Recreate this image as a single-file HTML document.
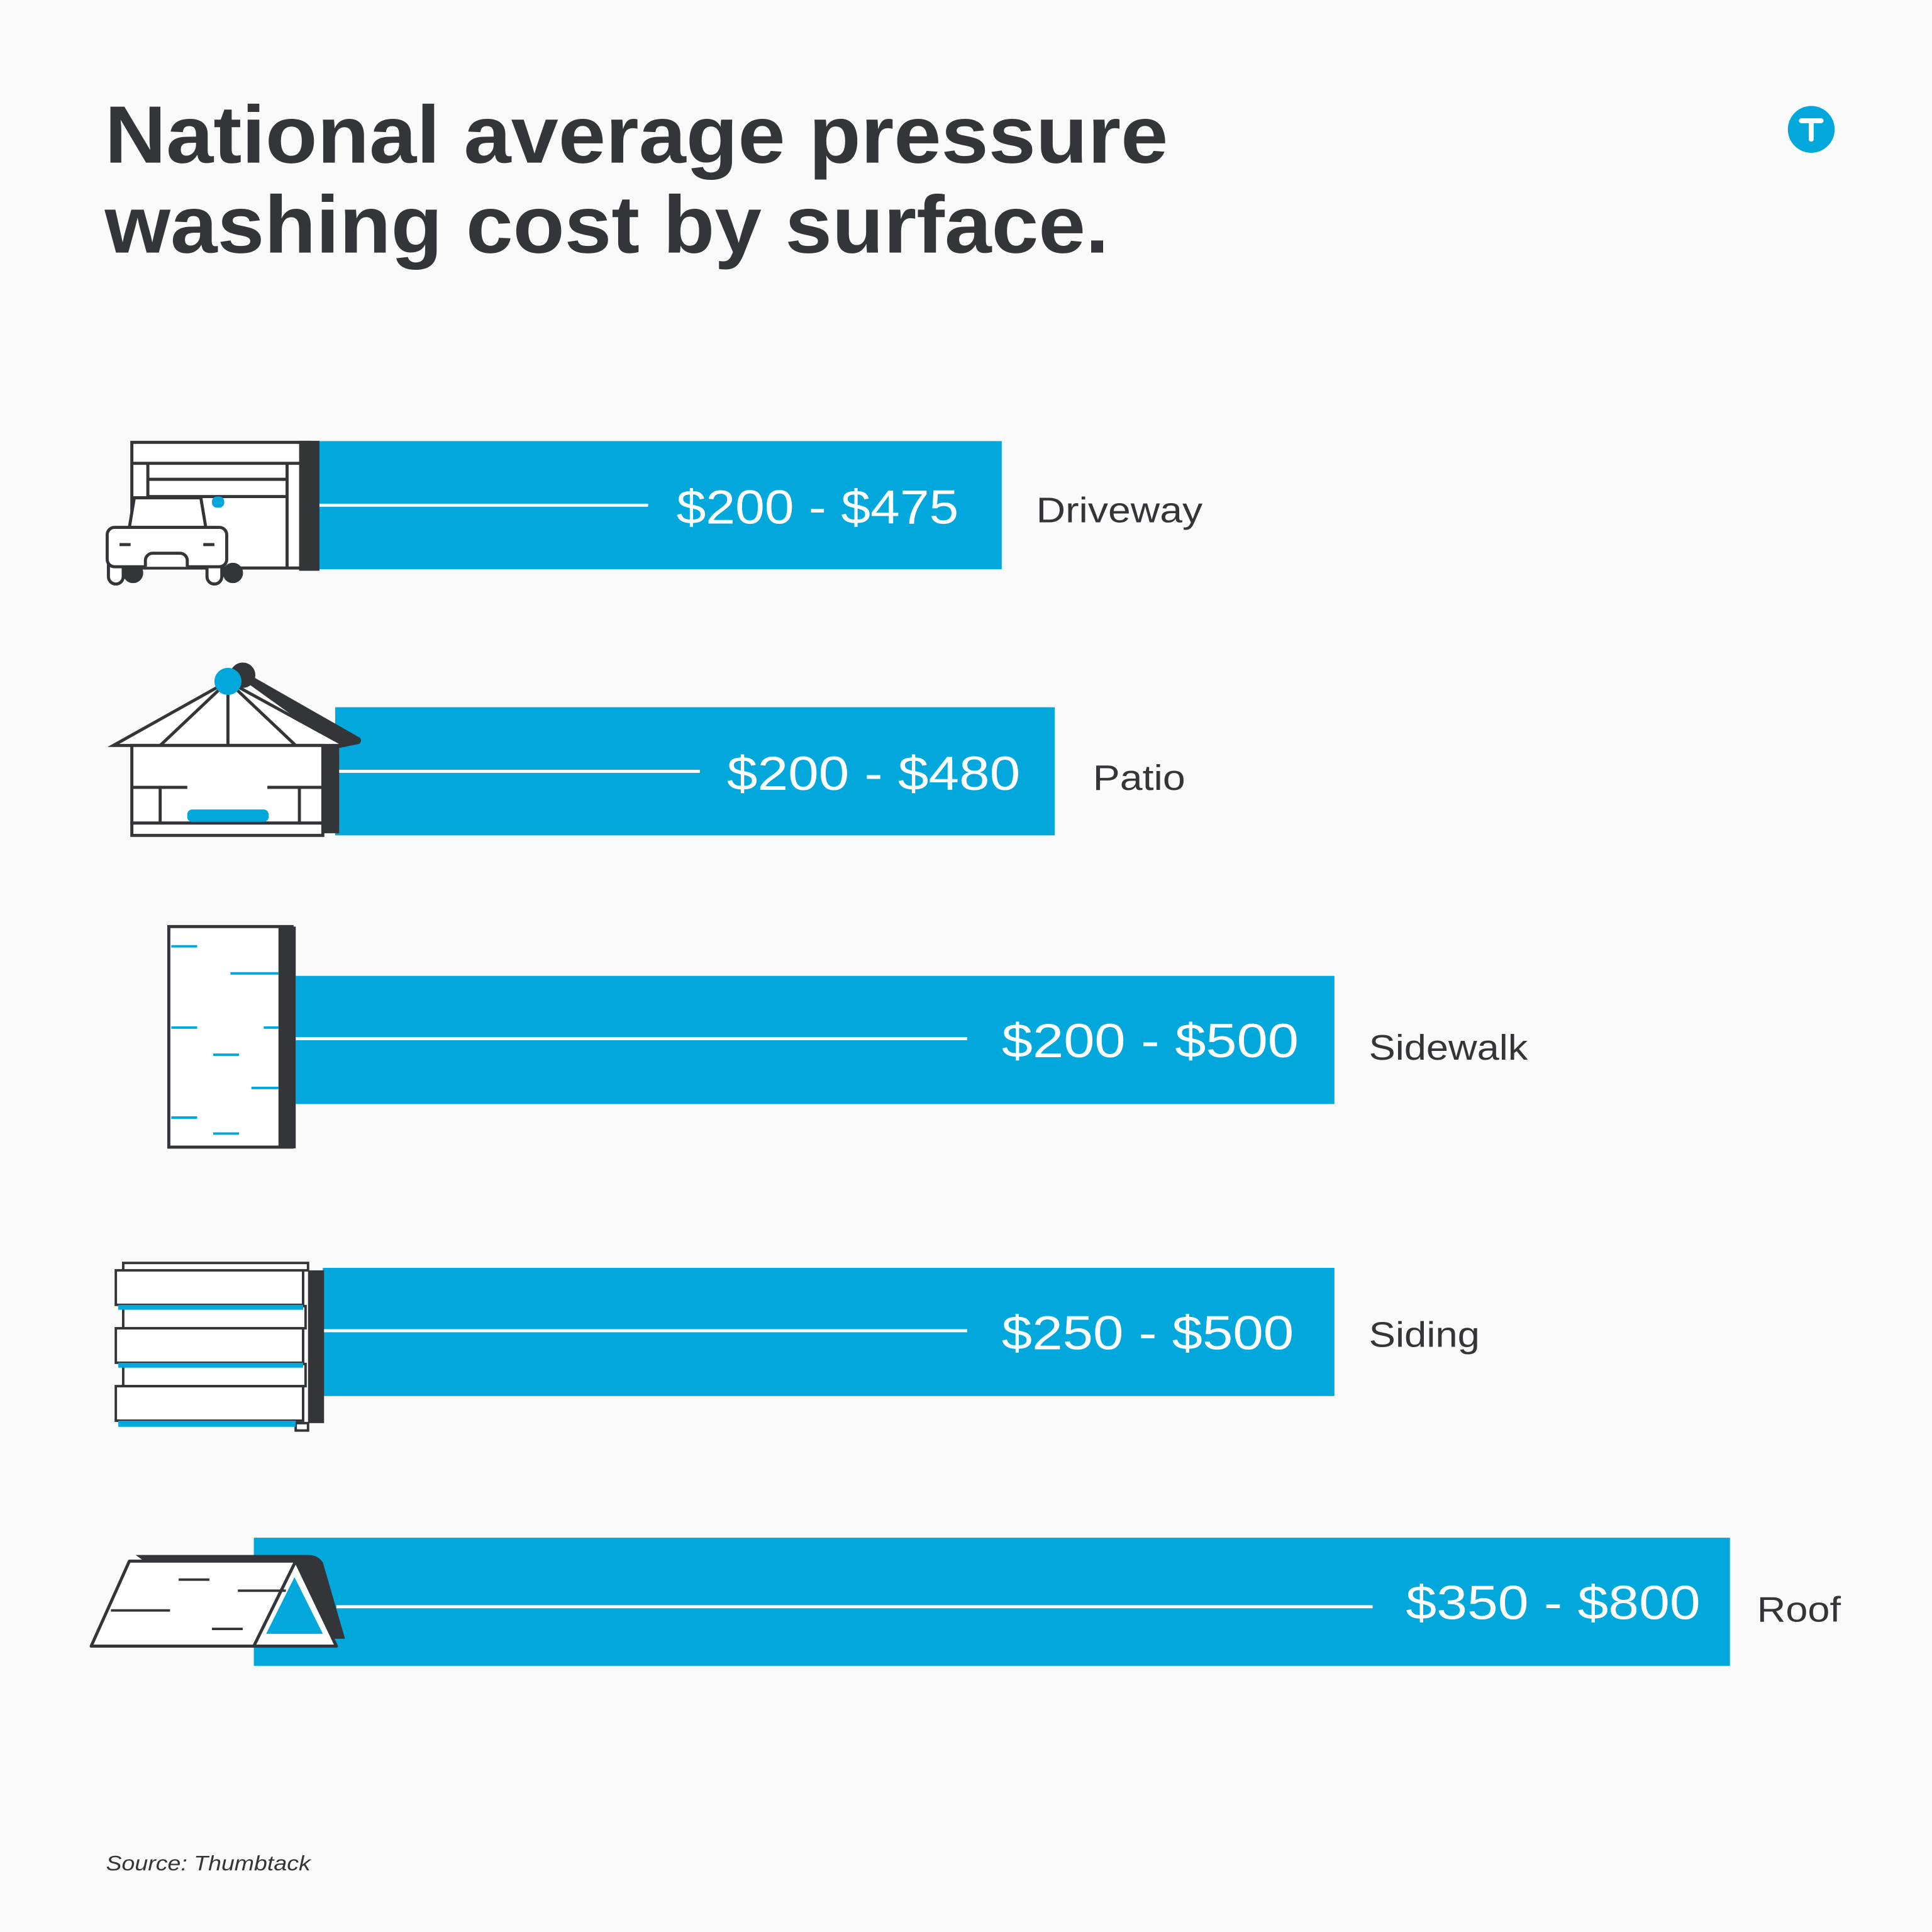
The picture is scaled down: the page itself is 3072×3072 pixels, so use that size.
<!DOCTYPE html>
<html><head><meta charset="utf-8"><style>
html,body{margin:0;padding:0;background:#fafafa;}
svg{display:block}
</style></head><body>
<svg width="3072" height="3072" viewBox="0 0 1568 1568" xmlns="http://www.w3.org/2000/svg" font-family="'Liberation Sans', 'DejaVu Sans', sans-serif">
<rect width="1568" height="1568" fill="#fafafa"/>
<g fill="#333539" font-weight="bold">
<text x="85" y="132" font-size="66" textLength="863" lengthAdjust="spacingAndGlyphs">National average pressure</text>
<text x="85" y="205" font-size="66" textLength="815" lengthAdjust="spacingAndGlyphs">washing cost by surface.</text>
</g>
<circle cx="1470" cy="105" r="19" fill="#02a8dc"/>
<path d="M1462 98 h16 M1470 98 v15" stroke="#fff" stroke-width="4" stroke-linecap="round"/>

<g fill="#02a8dc">
<rect x="258" y="358" width="555" height="104"/>
<rect x="272" y="574" width="584" height="104"/>
<rect x="240" y="792" width="843" height="104"/>
<rect x="262" y="1029" width="821" height="104"/>
<rect x="206" y="1248" width="1198" height="104"/>
</g>
<g stroke="#fff" stroke-width="2.5">
<line x1="258" y1="410" x2="526" y2="410"/>
<line x1="274" y1="626" x2="568" y2="626"/>
<line x1="240" y1="843" x2="785" y2="843"/>
<line x1="262" y1="1080" x2="785" y2="1080"/>
<line x1="273" y1="1304" x2="1114" y2="1304"/>
</g>
<g fill="#fff" font-size="39">
<text x="549" y="425" textLength="229" lengthAdjust="spacingAndGlyphs">$200 - $475</text>
<text x="590" y="641" textLength="238" lengthAdjust="spacingAndGlyphs">$200 - $480</text>
<text x="813" y="858" textLength="241" lengthAdjust="spacingAndGlyphs">$200 - $500</text>
<text x="813" y="1095" textLength="237" lengthAdjust="spacingAndGlyphs">$250 - $500</text>
<text x="1141" y="1314" textLength="239" lengthAdjust="spacingAndGlyphs">$350 - $800</text>
</g>
<g fill="#333539" font-size="29">
<text x="841" y="424" textLength="135" lengthAdjust="spacingAndGlyphs">Driveway</text>
<text x="887" y="641" textLength="75" lengthAdjust="spacingAndGlyphs">Patio</text>
<text x="1111" y="860" textLength="129" lengthAdjust="spacingAndGlyphs">Sidewalk</text>
<text x="1111" y="1093" textLength="90" lengthAdjust="spacingAndGlyphs">Siding</text>
<text x="1426" y="1316" textLength="68" lengthAdjust="spacingAndGlyphs">Roof</text>
</g>
<text x="86" y="1518" font-size="17" font-style="italic" fill="#333539" textLength="166" lengthAdjust="spacingAndGlyphs">Source: Thumbtack</text>

<!-- Driveway icon -->
<g stroke="#333539" stroke-width="2.5" fill="#fff">
<rect x="107" y="359" width="144" height="102"/>
<rect x="244" y="359" width="14" height="103" fill="#333539"/>
<line x1="107" y1="376" x2="244" y2="376"/>
<line x1="120" y1="376" x2="120" y2="404"/>
<line x1="233" y1="376" x2="233" y2="461"/>
<line x1="120" y1="389" x2="233" y2="389"/>
<line x1="120" y1="403" x2="233" y2="403"/>
<circle cx="108" cy="465" r="7" fill="#333539"/>
<circle cx="189" cy="465" r="7" fill="#333539"/>
<path d="M88 458 v10 a5 5 0 0 0 12 0 v-10 z"/>
<path d="M168 458 v10 a5 5 0 0 0 12 0 v-10 z"/>
<path d="M105 428 l4 -24 h54 l4 24 z"/>
<rect x="87" y="428" width="97" height="32" rx="6"/>
<path d="M118 460 v-5 a6 6 0 0 1 6 -6 h22 a6 6 0 0 1 6 6 v5"/>
<line x1="97" y1="442" x2="106" y2="442"/>
<line x1="165" y1="442" x2="174" y2="442"/>
</g>
<rect x="172" y="403" width="10" height="9" rx="4" fill="#02a8dc"/>

<!-- Patio icon -->
<g stroke="#333539" stroke-width="2.5" fill="#fff">
<path d="M197 548 L290 601 L275 604 Z" fill="#333539" stroke-width="6" stroke-linejoin="round"/>
<circle cx="197" cy="548" r="9" fill="#333539"/>
<rect x="262" y="605" width="12" height="70" fill="#333539"/>
<path d="M92 605 L185 553 L280 605 Z"/>
<line x1="185" y1="553" x2="130" y2="605"/>
<line x1="185" y1="553" x2="240" y2="605"/>
<line x1="185" y1="553" x2="185" y2="605"/>
<rect x="107" y="605" width="155" height="63"/>
<rect x="107" y="668" width="155" height="10"/>
<line x1="107" y1="639" x2="152" y2="639"/>
<line x1="217" y1="639" x2="262" y2="639"/>
<line x1="130" y1="639" x2="130" y2="668"/>
<line x1="243" y1="639" x2="243" y2="668"/>
</g>
<circle cx="185" cy="553" r="11" fill="#02a8dc"/>
<rect x="152" y="657" width="66" height="10" rx="4" fill="#02a8dc"/>

<!-- Sidewalk icon -->
<rect x="137" y="752" width="100" height="179" fill="#fff" stroke="#333539" stroke-width="2.5"/>
<rect x="226" y="752" width="14" height="180" fill="#333539"/>
<g stroke="#02a8dc" stroke-width="2">
<line x1="139" y1="768" x2="160" y2="768"/>
<line x1="187" y1="790" x2="226" y2="790"/>
<line x1="139" y1="834" x2="160" y2="834"/>
<line x1="214" y1="834" x2="226" y2="834"/>
<line x1="173" y1="856" x2="194" y2="856"/>
<line x1="204" y1="883" x2="226" y2="883"/>
<line x1="139" y1="907" x2="160" y2="907"/>
<line x1="173" y1="920" x2="194" y2="920"/>
</g>

<!-- Siding icon -->
<rect x="250" y="1031" width="13" height="124" fill="#333539"/>
<g stroke="#333539" stroke-width="2" fill="#fff">
<rect x="100" y="1025" width="150" height="6"/>
<rect x="100" y="1060" width="148" height="18"/>
<rect x="100" y="1107" width="148" height="18"/>
<rect x="94" y="1031" width="152" height="28"/>
<rect x="94" y="1078" width="152" height="28"/>
<rect x="94" y="1125" width="152" height="28"/>
<rect x="240" y="1155" width="10" height="6"/>
</g>
<g fill="#02a8dc">
<rect x="96" y="1059" width="150" height="4"/>
<rect x="96" y="1106" width="150" height="4"/>
<rect x="96" y="1153" width="144" height="5"/>
</g>

<!-- Roof icon -->
<path d="M110 1262 H250 Q258 1262 262 1268 L280 1330 H205 Z" fill="#333539"/>
<g stroke="#333539" stroke-width="2.5" fill="#fff" stroke-linejoin="round">
<path d="M105 1267 H240 L206 1336 H74 Z"/>
<path d="M240 1267 L273 1336 H206 Z"/>
</g>
<path d="M239 1280 L262 1326 H216 Z" fill="#02a8dc"/>
<g stroke="#333539" stroke-width="2">
<line x1="145" y1="1282" x2="170" y2="1282"/>
<line x1="90" y1="1307" x2="138" y2="1307"/>
<line x1="193" y1="1291" x2="232" y2="1291"/>
<line x1="172" y1="1322" x2="197" y2="1322"/>
</g>
</svg>
</body></html>
